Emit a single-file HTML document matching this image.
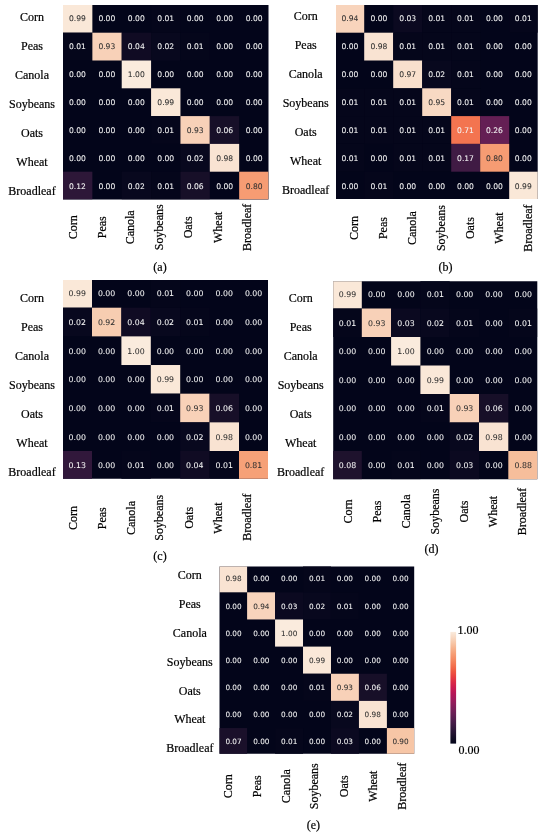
<!DOCTYPE html>
<html><head><meta charset="utf-8"><title>Confusion matrices</title>
<style>
html,body{margin:0;padding:0;background:#fff}
svg{display:block}
.lab{font-family:"Liberation Serif",serif;font-size:12px;fill:#000;stroke:#000;stroke-width:0.2px}
.ann{font-family:"DejaVu Sans","Liberation Sans",sans-serif;text-anchor:middle;stroke-width:0.06px}
.m{text-anchor:middle}
</style></head><body>
<svg width="550" height="837" viewBox="0 0 550 837">
<rect width="550" height="837" fill="#ffffff"/>
<g id="panel-a">
<clipPath id="cp-a"><rect x="63.00" y="4.90" width="205.50" height="194.70"/></clipPath>
<g clip-path="url(#cp-a)">
<rect x="62.00" y="3.90" width="207.50" height="196.70" fill="#03051a"/>
<rect x="63.00" y="4.90" width="29.36" height="27.80" fill="#fae8d8"/>
<rect x="151.08" y="4.90" width="29.36" height="27.80" fill="#05061b"/>
<rect x="63.00" y="32.70" width="29.36" height="27.80" fill="#05061b"/>
<rect x="92.36" y="32.70" width="29.36" height="27.80" fill="#f8d1b8"/>
<rect x="121.72" y="32.70" width="29.36" height="27.80" fill="#100b23"/>
<rect x="151.08" y="32.70" width="29.36" height="27.80" fill="#08081e"/>
<rect x="180.44" y="32.70" width="29.36" height="27.80" fill="#05061b"/>
<rect x="121.72" y="60.50" width="29.36" height="27.80" fill="#faebdd"/>
<rect x="151.08" y="88.30" width="29.36" height="27.80" fill="#fae8d8"/>
<rect x="151.08" y="116.10" width="29.36" height="27.80" fill="#05061b"/>
<rect x="180.44" y="116.10" width="29.36" height="27.80" fill="#f8d1b8"/>
<rect x="209.80" y="116.10" width="29.36" height="27.80" fill="#170f28"/>
<rect x="180.44" y="143.90" width="29.36" height="27.80" fill="#08081e"/>
<rect x="209.80" y="143.90" width="29.36" height="27.80" fill="#f9e3d2"/>
<rect x="63.00" y="171.70" width="29.36" height="27.80" fill="#2d1738"/>
<rect x="121.72" y="171.70" width="29.36" height="27.80" fill="#08081e"/>
<rect x="151.08" y="171.70" width="29.36" height="27.80" fill="#05061b"/>
<rect x="180.44" y="171.70" width="29.36" height="27.80" fill="#170f28"/>
<rect x="239.16" y="171.70" width="29.36" height="27.80" fill="#f69c73"/>
</g>
<g class="ann" font-size="7.6">
<text x="77.38" y="21.37" fill="#303030" stroke="#303030">0.99</text>
<text x="106.84" y="21.37" fill="#f4f4f4" stroke="#f4f4f4">0.00</text>
<text x="136.30" y="21.37" fill="#f4f4f4" stroke="#f4f4f4">0.00</text>
<text x="165.76" y="21.37" fill="#f4f4f4" stroke="#f4f4f4">0.01</text>
<text x="195.22" y="21.37" fill="#f4f4f4" stroke="#f4f4f4">0.00</text>
<text x="224.68" y="21.37" fill="#f4f4f4" stroke="#f4f4f4">0.00</text>
<text x="254.14" y="21.37" fill="#f4f4f4" stroke="#f4f4f4">0.00</text>
<text x="77.38" y="49.25" fill="#f4f4f4" stroke="#f4f4f4">0.01</text>
<text x="106.84" y="49.25" fill="#303030" stroke="#303030">0.93</text>
<text x="136.30" y="49.25" fill="#f4f4f4" stroke="#f4f4f4">0.04</text>
<text x="165.76" y="49.25" fill="#f4f4f4" stroke="#f4f4f4">0.02</text>
<text x="195.22" y="49.25" fill="#f4f4f4" stroke="#f4f4f4">0.01</text>
<text x="224.68" y="49.25" fill="#f4f4f4" stroke="#f4f4f4">0.00</text>
<text x="254.14" y="49.25" fill="#f4f4f4" stroke="#f4f4f4">0.00</text>
<text x="77.38" y="77.13" fill="#f4f4f4" stroke="#f4f4f4">0.00</text>
<text x="106.84" y="77.13" fill="#f4f4f4" stroke="#f4f4f4">0.00</text>
<text x="136.30" y="77.13" fill="#303030" stroke="#303030">1.00</text>
<text x="165.76" y="77.13" fill="#f4f4f4" stroke="#f4f4f4">0.00</text>
<text x="195.22" y="77.13" fill="#f4f4f4" stroke="#f4f4f4">0.00</text>
<text x="224.68" y="77.13" fill="#f4f4f4" stroke="#f4f4f4">0.00</text>
<text x="254.14" y="77.13" fill="#f4f4f4" stroke="#f4f4f4">0.00</text>
<text x="77.38" y="105.01" fill="#f4f4f4" stroke="#f4f4f4">0.00</text>
<text x="106.84" y="105.01" fill="#f4f4f4" stroke="#f4f4f4">0.00</text>
<text x="136.30" y="105.01" fill="#f4f4f4" stroke="#f4f4f4">0.00</text>
<text x="165.76" y="105.01" fill="#303030" stroke="#303030">0.99</text>
<text x="195.22" y="105.01" fill="#f4f4f4" stroke="#f4f4f4">0.00</text>
<text x="224.68" y="105.01" fill="#f4f4f4" stroke="#f4f4f4">0.00</text>
<text x="254.14" y="105.01" fill="#f4f4f4" stroke="#f4f4f4">0.00</text>
<text x="77.38" y="132.89" fill="#f4f4f4" stroke="#f4f4f4">0.00</text>
<text x="106.84" y="132.89" fill="#f4f4f4" stroke="#f4f4f4">0.00</text>
<text x="136.30" y="132.89" fill="#f4f4f4" stroke="#f4f4f4">0.00</text>
<text x="165.76" y="132.89" fill="#f4f4f4" stroke="#f4f4f4">0.01</text>
<text x="195.22" y="132.89" fill="#303030" stroke="#303030">0.93</text>
<text x="224.68" y="132.89" fill="#f4f4f4" stroke="#f4f4f4">0.06</text>
<text x="254.14" y="132.89" fill="#f4f4f4" stroke="#f4f4f4">0.00</text>
<text x="77.38" y="160.77" fill="#f4f4f4" stroke="#f4f4f4">0.00</text>
<text x="106.84" y="160.77" fill="#f4f4f4" stroke="#f4f4f4">0.00</text>
<text x="136.30" y="160.77" fill="#f4f4f4" stroke="#f4f4f4">0.00</text>
<text x="165.76" y="160.77" fill="#f4f4f4" stroke="#f4f4f4">0.00</text>
<text x="195.22" y="160.77" fill="#f4f4f4" stroke="#f4f4f4">0.02</text>
<text x="224.68" y="160.77" fill="#303030" stroke="#303030">0.98</text>
<text x="254.14" y="160.77" fill="#f4f4f4" stroke="#f4f4f4">0.00</text>
<text x="77.38" y="188.65" fill="#f4f4f4" stroke="#f4f4f4">0.12</text>
<text x="106.84" y="188.65" fill="#f4f4f4" stroke="#f4f4f4">0.00</text>
<text x="136.30" y="188.65" fill="#f4f4f4" stroke="#f4f4f4">0.02</text>
<text x="165.76" y="188.65" fill="#f4f4f4" stroke="#f4f4f4">0.01</text>
<text x="195.22" y="188.65" fill="#f4f4f4" stroke="#f4f4f4">0.06</text>
<text x="224.68" y="188.65" fill="#f4f4f4" stroke="#f4f4f4">0.00</text>
<text x="254.14" y="188.65" fill="#303030" stroke="#303030">0.80</text>
</g>
<text class="lab m" x="32.00" y="21.00">Corn</text>
<text class="lab m" x="32.00" y="49.97">Peas</text>
<text class="lab m" x="32.00" y="78.94">Canola</text>
<text class="lab m" x="32.00" y="107.91">Soybeans</text>
<text class="lab m" x="32.00" y="136.88">Oats</text>
<text class="lab m" x="32.00" y="165.85">Wheat</text>
<text class="lab m" x="32.00" y="194.82">Broadleaf</text>
<text class="lab m" transform="translate(77.00,227.30) rotate(-90) scale(1,1.06)">Corn</text>
<text class="lab m" transform="translate(105.60,227.30) rotate(-90) scale(1,1.06)">Peas</text>
<text class="lab m" transform="translate(134.40,227.30) rotate(-90) scale(1,1.06)">Canola</text>
<text class="lab m" transform="translate(163.00,227.30) rotate(-90) scale(1,1.06)">Soybeans</text>
<text class="lab m" transform="translate(192.40,227.30) rotate(-90) scale(1,1.06)">Oats</text>
<text class="lab m" transform="translate(221.60,227.30) rotate(-90) scale(1,1.06)">Wheat</text>
<text class="lab m" transform="translate(250.60,227.30) rotate(-90) scale(1,1.06)">Broadleaf</text>
<text class="lab m" x="160" y="271">(a)</text>
</g>
<g id="panel-b">
<clipPath id="cp-b"><rect x="336.00" y="4.90" width="201.70" height="194.10"/></clipPath>
<g clip-path="url(#cp-b)">
<rect x="335.00" y="3.90" width="203.70" height="196.10" fill="#03051a"/>
<rect x="335.20" y="4.90" width="29.00" height="27.80" fill="#f8d4bc"/>
<rect x="393.20" y="4.90" width="29.00" height="27.80" fill="#0b0920"/>
<rect x="422.20" y="4.90" width="29.00" height="27.80" fill="#05061b"/>
<rect x="451.20" y="4.90" width="29.00" height="27.80" fill="#05061b"/>
<rect x="509.20" y="4.90" width="29.00" height="27.80" fill="#05061b"/>
<rect x="364.20" y="32.70" width="29.00" height="27.80" fill="#f9e3d2"/>
<rect x="393.20" y="32.70" width="29.00" height="27.80" fill="#05061b"/>
<rect x="422.20" y="32.70" width="29.00" height="27.80" fill="#05061b"/>
<rect x="451.20" y="32.70" width="29.00" height="27.80" fill="#05061b"/>
<rect x="393.20" y="60.50" width="29.00" height="27.80" fill="#f9e0cd"/>
<rect x="422.20" y="60.50" width="29.00" height="27.80" fill="#08081e"/>
<rect x="451.20" y="60.50" width="29.00" height="27.80" fill="#05061b"/>
<rect x="335.20" y="88.30" width="29.00" height="27.80" fill="#05061b"/>
<rect x="364.20" y="88.30" width="29.00" height="27.80" fill="#05061b"/>
<rect x="393.20" y="88.30" width="29.00" height="27.80" fill="#05061b"/>
<rect x="422.20" y="88.30" width="29.00" height="27.80" fill="#f8d9c3"/>
<rect x="451.20" y="88.30" width="29.00" height="27.80" fill="#05061b"/>
<rect x="335.20" y="116.10" width="29.00" height="27.80" fill="#05061b"/>
<rect x="364.20" y="116.10" width="29.00" height="27.80" fill="#05061b"/>
<rect x="393.20" y="116.10" width="29.00" height="27.80" fill="#05061b"/>
<rect x="422.20" y="116.10" width="29.00" height="27.80" fill="#05061b"/>
<rect x="451.20" y="116.10" width="29.00" height="27.80" fill="#f37450"/>
<rect x="480.20" y="116.10" width="29.00" height="27.80" fill="#641f54"/>
<rect x="335.20" y="143.90" width="29.00" height="27.80" fill="#05061b"/>
<rect x="393.20" y="143.90" width="29.00" height="27.80" fill="#05061b"/>
<rect x="422.20" y="143.90" width="29.00" height="27.80" fill="#05061b"/>
<rect x="451.20" y="143.90" width="29.00" height="27.80" fill="#401b44"/>
<rect x="480.20" y="143.90" width="29.00" height="27.80" fill="#f69c73"/>
<rect x="364.20" y="171.70" width="29.00" height="27.80" fill="#05061b"/>
<rect x="509.20" y="171.70" width="29.00" height="27.80" fill="#fae8d8"/>
</g>
<g class="ann" font-size="7.6">
<text x="350.00" y="21.47" fill="#303030" stroke="#303030">0.94</text>
<text x="378.88" y="21.47" fill="#f4f4f4" stroke="#f4f4f4">0.00</text>
<text x="407.76" y="21.47" fill="#f4f4f4" stroke="#f4f4f4">0.03</text>
<text x="436.64" y="21.47" fill="#f4f4f4" stroke="#f4f4f4">0.01</text>
<text x="465.52" y="21.47" fill="#f4f4f4" stroke="#f4f4f4">0.01</text>
<text x="494.40" y="21.47" fill="#f4f4f4" stroke="#f4f4f4">0.00</text>
<text x="523.28" y="21.47" fill="#f4f4f4" stroke="#f4f4f4">0.01</text>
<text x="350.00" y="49.33" fill="#f4f4f4" stroke="#f4f4f4">0.00</text>
<text x="378.88" y="49.33" fill="#303030" stroke="#303030">0.98</text>
<text x="407.76" y="49.33" fill="#f4f4f4" stroke="#f4f4f4">0.01</text>
<text x="436.64" y="49.33" fill="#f4f4f4" stroke="#f4f4f4">0.01</text>
<text x="465.52" y="49.33" fill="#f4f4f4" stroke="#f4f4f4">0.01</text>
<text x="494.40" y="49.33" fill="#f4f4f4" stroke="#f4f4f4">0.00</text>
<text x="523.28" y="49.33" fill="#f4f4f4" stroke="#f4f4f4">0.00</text>
<text x="350.00" y="77.19" fill="#f4f4f4" stroke="#f4f4f4">0.00</text>
<text x="378.88" y="77.19" fill="#f4f4f4" stroke="#f4f4f4">0.00</text>
<text x="407.76" y="77.19" fill="#303030" stroke="#303030">0.97</text>
<text x="436.64" y="77.19" fill="#f4f4f4" stroke="#f4f4f4">0.02</text>
<text x="465.52" y="77.19" fill="#f4f4f4" stroke="#f4f4f4">0.01</text>
<text x="494.40" y="77.19" fill="#f4f4f4" stroke="#f4f4f4">0.00</text>
<text x="523.28" y="77.19" fill="#f4f4f4" stroke="#f4f4f4">0.00</text>
<text x="350.00" y="105.05" fill="#f4f4f4" stroke="#f4f4f4">0.01</text>
<text x="378.88" y="105.05" fill="#f4f4f4" stroke="#f4f4f4">0.01</text>
<text x="407.76" y="105.05" fill="#f4f4f4" stroke="#f4f4f4">0.01</text>
<text x="436.64" y="105.05" fill="#303030" stroke="#303030">0.95</text>
<text x="465.52" y="105.05" fill="#f4f4f4" stroke="#f4f4f4">0.01</text>
<text x="494.40" y="105.05" fill="#f4f4f4" stroke="#f4f4f4">0.00</text>
<text x="523.28" y="105.05" fill="#f4f4f4" stroke="#f4f4f4">0.00</text>
<text x="350.00" y="132.91" fill="#f4f4f4" stroke="#f4f4f4">0.01</text>
<text x="378.88" y="132.91" fill="#f4f4f4" stroke="#f4f4f4">0.01</text>
<text x="407.76" y="132.91" fill="#f4f4f4" stroke="#f4f4f4">0.01</text>
<text x="436.64" y="132.91" fill="#f4f4f4" stroke="#f4f4f4">0.01</text>
<text x="465.52" y="132.91" fill="#f4f4f4" stroke="#f4f4f4">0.71</text>
<text x="494.40" y="132.91" fill="#f4f4f4" stroke="#f4f4f4">0.26</text>
<text x="523.28" y="132.91" fill="#f4f4f4" stroke="#f4f4f4">0.00</text>
<text x="350.00" y="160.77" fill="#f4f4f4" stroke="#f4f4f4">0.01</text>
<text x="378.88" y="160.77" fill="#f4f4f4" stroke="#f4f4f4">0.00</text>
<text x="407.76" y="160.77" fill="#f4f4f4" stroke="#f4f4f4">0.01</text>
<text x="436.64" y="160.77" fill="#f4f4f4" stroke="#f4f4f4">0.01</text>
<text x="465.52" y="160.77" fill="#f4f4f4" stroke="#f4f4f4">0.17</text>
<text x="494.40" y="160.77" fill="#303030" stroke="#303030">0.80</text>
<text x="523.28" y="160.77" fill="#f4f4f4" stroke="#f4f4f4">0.00</text>
<text x="350.00" y="188.63" fill="#f4f4f4" stroke="#f4f4f4">0.00</text>
<text x="378.88" y="188.63" fill="#f4f4f4" stroke="#f4f4f4">0.01</text>
<text x="407.76" y="188.63" fill="#f4f4f4" stroke="#f4f4f4">0.00</text>
<text x="436.64" y="188.63" fill="#f4f4f4" stroke="#f4f4f4">0.00</text>
<text x="465.52" y="188.63" fill="#f4f4f4" stroke="#f4f4f4">0.00</text>
<text x="494.40" y="188.63" fill="#f4f4f4" stroke="#f4f4f4">0.00</text>
<text x="523.28" y="188.63" fill="#303030" stroke="#303030">0.99</text>
</g>
<text class="lab m" x="305.70" y="20.40">Corn</text>
<text class="lab m" x="305.70" y="49.25">Peas</text>
<text class="lab m" x="305.70" y="78.10">Canola</text>
<text class="lab m" x="305.70" y="106.95">Soybeans</text>
<text class="lab m" x="305.70" y="135.80">Oats</text>
<text class="lab m" x="305.70" y="164.65">Wheat</text>
<text class="lab m" x="305.70" y="193.50">Broadleaf</text>
<text class="lab m" transform="translate(358.40,228.10) rotate(-90) scale(1,1.06)">Corn</text>
<text class="lab m" transform="translate(387.40,228.10) rotate(-90) scale(1,1.06)">Peas</text>
<text class="lab m" transform="translate(416.40,228.10) rotate(-90) scale(1,1.06)">Canola</text>
<text class="lab m" transform="translate(445.20,228.10) rotate(-90) scale(1,1.06)">Soybeans</text>
<text class="lab m" transform="translate(474.40,228.10) rotate(-90) scale(1,1.06)">Oats</text>
<text class="lab m" transform="translate(503.40,228.10) rotate(-90) scale(1,1.06)">Wheat</text>
<text class="lab m" transform="translate(532.40,228.10) rotate(-90) scale(1,1.06)">Broadleaf</text>
<text class="lab m" x="445.6" y="271">(b)</text>
</g>
<g id="panel-c">
<clipPath id="cp-c"><rect x="63.00" y="280.00" width="205.00" height="198.70"/></clipPath>
<g clip-path="url(#cp-c)">
<rect x="62.00" y="279.00" width="207.00" height="200.70" fill="#03051a"/>
<rect x="62.60" y="279.04" width="29.40" height="28.66" fill="#fae8d8"/>
<rect x="150.80" y="279.04" width="29.40" height="28.66" fill="#05061b"/>
<rect x="62.60" y="307.70" width="29.40" height="28.66" fill="#08081e"/>
<rect x="92.00" y="307.70" width="29.40" height="28.66" fill="#f7cdb1"/>
<rect x="121.40" y="307.70" width="29.40" height="28.66" fill="#100b23"/>
<rect x="150.80" y="307.70" width="29.40" height="28.66" fill="#08081e"/>
<rect x="180.20" y="307.70" width="29.40" height="28.66" fill="#05061b"/>
<rect x="121.40" y="336.36" width="29.40" height="28.66" fill="#faebdd"/>
<rect x="150.80" y="365.02" width="29.40" height="28.66" fill="#fae8d8"/>
<rect x="150.80" y="393.68" width="29.40" height="28.66" fill="#05061b"/>
<rect x="180.20" y="393.68" width="29.40" height="28.66" fill="#f8d1b8"/>
<rect x="209.60" y="393.68" width="29.40" height="28.66" fill="#170f28"/>
<rect x="180.20" y="422.34" width="29.40" height="28.66" fill="#08081e"/>
<rect x="209.60" y="422.34" width="29.40" height="28.66" fill="#f9e3d2"/>
<rect x="62.60" y="451.00" width="29.40" height="28.66" fill="#31183b"/>
<rect x="121.40" y="451.00" width="29.40" height="28.66" fill="#05061b"/>
<rect x="180.20" y="451.00" width="29.40" height="28.66" fill="#100b23"/>
<rect x="209.60" y="451.00" width="29.40" height="28.66" fill="#05061b"/>
<rect x="239.00" y="451.00" width="29.40" height="28.66" fill="#f6a178"/>
</g>
<g class="ann" font-size="7.8">
<text x="77.20" y="296.42" fill="#303030" stroke="#303030">0.99</text>
<text x="106.60" y="296.42" fill="#f4f4f4" stroke="#f4f4f4">0.00</text>
<text x="136.00" y="296.42" fill="#f4f4f4" stroke="#f4f4f4">0.00</text>
<text x="165.40" y="296.42" fill="#f4f4f4" stroke="#f4f4f4">0.01</text>
<text x="194.80" y="296.42" fill="#f4f4f4" stroke="#f4f4f4">0.00</text>
<text x="224.20" y="296.42" fill="#f4f4f4" stroke="#f4f4f4">0.00</text>
<text x="253.60" y="296.42" fill="#f4f4f4" stroke="#f4f4f4">0.00</text>
<text x="77.20" y="325.08" fill="#f4f4f4" stroke="#f4f4f4">0.02</text>
<text x="106.60" y="325.08" fill="#303030" stroke="#303030">0.92</text>
<text x="136.00" y="325.08" fill="#f4f4f4" stroke="#f4f4f4">0.04</text>
<text x="165.40" y="325.08" fill="#f4f4f4" stroke="#f4f4f4">0.02</text>
<text x="194.80" y="325.08" fill="#f4f4f4" stroke="#f4f4f4">0.01</text>
<text x="224.20" y="325.08" fill="#f4f4f4" stroke="#f4f4f4">0.00</text>
<text x="253.60" y="325.08" fill="#f4f4f4" stroke="#f4f4f4">0.00</text>
<text x="77.20" y="353.74" fill="#f4f4f4" stroke="#f4f4f4">0.00</text>
<text x="106.60" y="353.74" fill="#f4f4f4" stroke="#f4f4f4">0.00</text>
<text x="136.00" y="353.74" fill="#303030" stroke="#303030">1.00</text>
<text x="165.40" y="353.74" fill="#f4f4f4" stroke="#f4f4f4">0.00</text>
<text x="194.80" y="353.74" fill="#f4f4f4" stroke="#f4f4f4">0.00</text>
<text x="224.20" y="353.74" fill="#f4f4f4" stroke="#f4f4f4">0.00</text>
<text x="253.60" y="353.74" fill="#f4f4f4" stroke="#f4f4f4">0.00</text>
<text x="77.20" y="382.40" fill="#f4f4f4" stroke="#f4f4f4">0.00</text>
<text x="106.60" y="382.40" fill="#f4f4f4" stroke="#f4f4f4">0.00</text>
<text x="136.00" y="382.40" fill="#f4f4f4" stroke="#f4f4f4">0.00</text>
<text x="165.40" y="382.40" fill="#303030" stroke="#303030">0.99</text>
<text x="194.80" y="382.40" fill="#f4f4f4" stroke="#f4f4f4">0.00</text>
<text x="224.20" y="382.40" fill="#f4f4f4" stroke="#f4f4f4">0.00</text>
<text x="253.60" y="382.40" fill="#f4f4f4" stroke="#f4f4f4">0.00</text>
<text x="77.20" y="411.06" fill="#f4f4f4" stroke="#f4f4f4">0.00</text>
<text x="106.60" y="411.06" fill="#f4f4f4" stroke="#f4f4f4">0.00</text>
<text x="136.00" y="411.06" fill="#f4f4f4" stroke="#f4f4f4">0.00</text>
<text x="165.40" y="411.06" fill="#f4f4f4" stroke="#f4f4f4">0.01</text>
<text x="194.80" y="411.06" fill="#303030" stroke="#303030">0.93</text>
<text x="224.20" y="411.06" fill="#f4f4f4" stroke="#f4f4f4">0.06</text>
<text x="253.60" y="411.06" fill="#f4f4f4" stroke="#f4f4f4">0.00</text>
<text x="77.20" y="439.72" fill="#f4f4f4" stroke="#f4f4f4">0.00</text>
<text x="106.60" y="439.72" fill="#f4f4f4" stroke="#f4f4f4">0.00</text>
<text x="136.00" y="439.72" fill="#f4f4f4" stroke="#f4f4f4">0.00</text>
<text x="165.40" y="439.72" fill="#f4f4f4" stroke="#f4f4f4">0.00</text>
<text x="194.80" y="439.72" fill="#f4f4f4" stroke="#f4f4f4">0.02</text>
<text x="224.20" y="439.72" fill="#303030" stroke="#303030">0.98</text>
<text x="253.60" y="439.72" fill="#f4f4f4" stroke="#f4f4f4">0.00</text>
<text x="77.20" y="468.38" fill="#f4f4f4" stroke="#f4f4f4">0.13</text>
<text x="106.60" y="468.38" fill="#f4f4f4" stroke="#f4f4f4">0.00</text>
<text x="136.00" y="468.38" fill="#f4f4f4" stroke="#f4f4f4">0.01</text>
<text x="165.40" y="468.38" fill="#f4f4f4" stroke="#f4f4f4">0.00</text>
<text x="194.80" y="468.38" fill="#f4f4f4" stroke="#f4f4f4">0.04</text>
<text x="224.20" y="468.38" fill="#f4f4f4" stroke="#f4f4f4">0.01</text>
<text x="253.60" y="468.38" fill="#303030" stroke="#303030">0.81</text>
</g>
<text class="lab m" x="32.00" y="302.10">Corn</text>
<text class="lab m" x="32.00" y="331.00">Peas</text>
<text class="lab m" x="32.00" y="359.90">Canola</text>
<text class="lab m" x="32.00" y="388.80">Soybeans</text>
<text class="lab m" x="32.00" y="417.70">Oats</text>
<text class="lab m" x="32.00" y="446.60">Wheat</text>
<text class="lab m" x="32.00" y="475.50">Broadleaf</text>
<text class="lab m" transform="translate(77.00,518.00) rotate(-90) scale(1,1.06)">Corn</text>
<text class="lab m" transform="translate(106.00,518.30) rotate(-90) scale(1,1.06)">Peas</text>
<text class="lab m" transform="translate(134.60,518.00) rotate(-90) scale(1,1.06)">Canola</text>
<text class="lab m" transform="translate(163.40,517.80) rotate(-90) scale(1,1.06)">Soybeans</text>
<text class="lab m" transform="translate(193.00,517.80) rotate(-90) scale(1,1.06)">Oats</text>
<text class="lab m" transform="translate(222.00,518.00) rotate(-90) scale(1,1.06)">Wheat</text>
<text class="lab m" transform="translate(251.00,517.20) rotate(-90) scale(1,1.06)">Broadleaf</text>
<text class="lab m" x="160" y="560.2">(c)</text>
</g>
<g id="panel-d">
<clipPath id="cp-d"><rect x="333.20" y="281.20" width="204.10" height="198.00"/></clipPath>
<g clip-path="url(#cp-d)">
<rect x="332.20" y="280.20" width="206.10" height="200.00" fill="#03051a"/>
<rect x="332.50" y="280.00" width="29.30" height="28.50" fill="#fae8d8"/>
<rect x="420.40" y="280.00" width="29.30" height="28.50" fill="#05061b"/>
<rect x="332.50" y="308.50" width="29.30" height="28.50" fill="#05061b"/>
<rect x="361.80" y="308.50" width="29.30" height="28.50" fill="#f8d1b8"/>
<rect x="391.10" y="308.50" width="29.30" height="28.50" fill="#0b0920"/>
<rect x="420.40" y="308.50" width="29.30" height="28.50" fill="#08081e"/>
<rect x="449.70" y="308.50" width="29.30" height="28.50" fill="#05061b"/>
<rect x="508.30" y="308.50" width="29.30" height="28.50" fill="#05061b"/>
<rect x="391.10" y="337.00" width="29.30" height="28.50" fill="#faebdd"/>
<rect x="420.40" y="365.50" width="29.30" height="28.50" fill="#fae8d8"/>
<rect x="420.40" y="394.00" width="29.30" height="28.50" fill="#05061b"/>
<rect x="449.70" y="394.00" width="29.30" height="28.50" fill="#f8d1b8"/>
<rect x="479.00" y="394.00" width="29.30" height="28.50" fill="#170f28"/>
<rect x="449.70" y="422.50" width="29.30" height="28.50" fill="#08081e"/>
<rect x="479.00" y="422.50" width="29.30" height="28.50" fill="#f9e3d2"/>
<rect x="332.50" y="451.00" width="29.30" height="28.50" fill="#1e122d"/>
<rect x="391.10" y="451.00" width="29.30" height="28.50" fill="#05061b"/>
<rect x="449.70" y="451.00" width="29.30" height="28.50" fill="#0b0920"/>
<rect x="508.30" y="451.00" width="29.30" height="28.50" fill="#f6be9b"/>
</g>
<g class="ann" font-size="7.8">
<text x="347.45" y="297.30" fill="#303030" stroke="#303030">0.99</text>
<text x="376.75" y="297.30" fill="#f4f4f4" stroke="#f4f4f4">0.00</text>
<text x="406.05" y="297.30" fill="#f4f4f4" stroke="#f4f4f4">0.00</text>
<text x="435.35" y="297.30" fill="#f4f4f4" stroke="#f4f4f4">0.01</text>
<text x="464.65" y="297.30" fill="#f4f4f4" stroke="#f4f4f4">0.00</text>
<text x="493.95" y="297.30" fill="#f4f4f4" stroke="#f4f4f4">0.00</text>
<text x="523.25" y="297.30" fill="#f4f4f4" stroke="#f4f4f4">0.00</text>
<text x="347.45" y="325.80" fill="#f4f4f4" stroke="#f4f4f4">0.01</text>
<text x="376.75" y="325.80" fill="#303030" stroke="#303030">0.93</text>
<text x="406.05" y="325.80" fill="#f4f4f4" stroke="#f4f4f4">0.03</text>
<text x="435.35" y="325.80" fill="#f4f4f4" stroke="#f4f4f4">0.02</text>
<text x="464.65" y="325.80" fill="#f4f4f4" stroke="#f4f4f4">0.01</text>
<text x="493.95" y="325.80" fill="#f4f4f4" stroke="#f4f4f4">0.00</text>
<text x="523.25" y="325.80" fill="#f4f4f4" stroke="#f4f4f4">0.01</text>
<text x="347.45" y="354.30" fill="#f4f4f4" stroke="#f4f4f4">0.00</text>
<text x="376.75" y="354.30" fill="#f4f4f4" stroke="#f4f4f4">0.00</text>
<text x="406.05" y="354.30" fill="#303030" stroke="#303030">1.00</text>
<text x="435.35" y="354.30" fill="#f4f4f4" stroke="#f4f4f4">0.00</text>
<text x="464.65" y="354.30" fill="#f4f4f4" stroke="#f4f4f4">0.00</text>
<text x="493.95" y="354.30" fill="#f4f4f4" stroke="#f4f4f4">0.00</text>
<text x="523.25" y="354.30" fill="#f4f4f4" stroke="#f4f4f4">0.00</text>
<text x="347.45" y="382.80" fill="#f4f4f4" stroke="#f4f4f4">0.00</text>
<text x="376.75" y="382.80" fill="#f4f4f4" stroke="#f4f4f4">0.00</text>
<text x="406.05" y="382.80" fill="#f4f4f4" stroke="#f4f4f4">0.00</text>
<text x="435.35" y="382.80" fill="#303030" stroke="#303030">0.99</text>
<text x="464.65" y="382.80" fill="#f4f4f4" stroke="#f4f4f4">0.00</text>
<text x="493.95" y="382.80" fill="#f4f4f4" stroke="#f4f4f4">0.00</text>
<text x="523.25" y="382.80" fill="#f4f4f4" stroke="#f4f4f4">0.00</text>
<text x="347.45" y="411.30" fill="#f4f4f4" stroke="#f4f4f4">0.00</text>
<text x="376.75" y="411.30" fill="#f4f4f4" stroke="#f4f4f4">0.00</text>
<text x="406.05" y="411.30" fill="#f4f4f4" stroke="#f4f4f4">0.00</text>
<text x="435.35" y="411.30" fill="#f4f4f4" stroke="#f4f4f4">0.01</text>
<text x="464.65" y="411.30" fill="#303030" stroke="#303030">0.93</text>
<text x="493.95" y="411.30" fill="#f4f4f4" stroke="#f4f4f4">0.06</text>
<text x="523.25" y="411.30" fill="#f4f4f4" stroke="#f4f4f4">0.00</text>
<text x="347.45" y="439.80" fill="#f4f4f4" stroke="#f4f4f4">0.00</text>
<text x="376.75" y="439.80" fill="#f4f4f4" stroke="#f4f4f4">0.00</text>
<text x="406.05" y="439.80" fill="#f4f4f4" stroke="#f4f4f4">0.00</text>
<text x="435.35" y="439.80" fill="#f4f4f4" stroke="#f4f4f4">0.00</text>
<text x="464.65" y="439.80" fill="#f4f4f4" stroke="#f4f4f4">0.02</text>
<text x="493.95" y="439.80" fill="#303030" stroke="#303030">0.98</text>
<text x="523.25" y="439.80" fill="#f4f4f4" stroke="#f4f4f4">0.00</text>
<text x="347.45" y="468.30" fill="#f4f4f4" stroke="#f4f4f4">0.08</text>
<text x="376.75" y="468.30" fill="#f4f4f4" stroke="#f4f4f4">0.00</text>
<text x="406.05" y="468.30" fill="#f4f4f4" stroke="#f4f4f4">0.01</text>
<text x="435.35" y="468.30" fill="#f4f4f4" stroke="#f4f4f4">0.00</text>
<text x="464.65" y="468.30" fill="#f4f4f4" stroke="#f4f4f4">0.03</text>
<text x="493.95" y="468.30" fill="#f4f4f4" stroke="#f4f4f4">0.00</text>
<text x="523.25" y="468.30" fill="#303030" stroke="#303030">0.88</text>
</g>
<text class="lab m" x="300.70" y="302.00">Corn</text>
<text class="lab m" x="300.70" y="330.92">Peas</text>
<text class="lab m" x="300.70" y="359.84">Canola</text>
<text class="lab m" x="300.70" y="388.76">Soybeans</text>
<text class="lab m" x="300.70" y="417.68">Oats</text>
<text class="lab m" x="300.70" y="446.60">Wheat</text>
<text class="lab m" x="300.70" y="475.52">Broadleaf</text>
<text class="lab m" transform="translate(352.00,511.50) rotate(-90) scale(1,1.06)">Corn</text>
<text class="lab m" transform="translate(380.60,511.50) rotate(-90) scale(1,1.06)">Peas</text>
<text class="lab m" transform="translate(410.00,511.50) rotate(-90) scale(1,1.06)">Canola</text>
<text class="lab m" transform="translate(438.60,511.50) rotate(-90) scale(1,1.06)">Soybeans</text>
<text class="lab m" transform="translate(468.00,511.50) rotate(-90) scale(1,1.06)">Oats</text>
<text class="lab m" transform="translate(497.00,511.50) rotate(-90) scale(1,1.06)">Wheat</text>
<text class="lab m" transform="translate(526.00,511.50) rotate(-90) scale(1,1.06)">Broadleaf</text>
<text class="lab m" x="431.4" y="552.7">(d)</text>
</g>
<g id="panel-e">
<clipPath id="cp-e"><rect x="219.50" y="566.50" width="194.70" height="187.30"/></clipPath>
<g clip-path="url(#cp-e)">
<rect x="218.50" y="565.50" width="196.70" height="189.30" fill="#03051a"/>
<rect x="219.14" y="565.15" width="27.96" height="27.15" fill="#f9e3d2"/>
<rect x="303.02" y="565.15" width="27.96" height="27.15" fill="#05061b"/>
<rect x="247.10" y="592.30" width="27.96" height="27.15" fill="#f8d4bc"/>
<rect x="275.06" y="592.30" width="27.96" height="27.15" fill="#0b0920"/>
<rect x="303.02" y="592.30" width="27.96" height="27.15" fill="#08081e"/>
<rect x="330.98" y="592.30" width="27.96" height="27.15" fill="#05061b"/>
<rect x="275.06" y="619.45" width="27.96" height="27.15" fill="#faebdd"/>
<rect x="303.02" y="646.60" width="27.96" height="27.15" fill="#fae8d8"/>
<rect x="303.02" y="673.75" width="27.96" height="27.15" fill="#05061b"/>
<rect x="330.98" y="673.75" width="27.96" height="27.15" fill="#f8d1b8"/>
<rect x="358.94" y="673.75" width="27.96" height="27.15" fill="#170f28"/>
<rect x="330.98" y="700.90" width="27.96" height="27.15" fill="#08081e"/>
<rect x="358.94" y="700.90" width="27.96" height="27.15" fill="#f9e3d2"/>
<rect x="219.14" y="728.05" width="27.96" height="27.15" fill="#1a102a"/>
<rect x="275.06" y="728.05" width="27.96" height="27.15" fill="#05061b"/>
<rect x="330.98" y="728.05" width="27.96" height="27.15" fill="#0b0920"/>
<rect x="386.90" y="728.05" width="27.96" height="27.15" fill="#f7c6a6"/>
</g>
<g class="ann" font-size="7.3">
<text x="233.52" y="581.49" fill="#303030" stroke="#303030">0.98</text>
<text x="261.35" y="581.49" fill="#f4f4f4" stroke="#f4f4f4">0.00</text>
<text x="289.18" y="581.49" fill="#f4f4f4" stroke="#f4f4f4">0.00</text>
<text x="317.01" y="581.49" fill="#f4f4f4" stroke="#f4f4f4">0.01</text>
<text x="344.84" y="581.49" fill="#f4f4f4" stroke="#f4f4f4">0.00</text>
<text x="372.67" y="581.49" fill="#f4f4f4" stroke="#f4f4f4">0.00</text>
<text x="400.50" y="581.49" fill="#f4f4f4" stroke="#f4f4f4">0.00</text>
<text x="233.52" y="608.64" fill="#f4f4f4" stroke="#f4f4f4">0.00</text>
<text x="261.35" y="608.64" fill="#303030" stroke="#303030">0.94</text>
<text x="289.18" y="608.64" fill="#f4f4f4" stroke="#f4f4f4">0.03</text>
<text x="317.01" y="608.64" fill="#f4f4f4" stroke="#f4f4f4">0.02</text>
<text x="344.84" y="608.64" fill="#f4f4f4" stroke="#f4f4f4">0.01</text>
<text x="372.67" y="608.64" fill="#f4f4f4" stroke="#f4f4f4">0.00</text>
<text x="400.50" y="608.64" fill="#f4f4f4" stroke="#f4f4f4">0.00</text>
<text x="233.52" y="635.79" fill="#f4f4f4" stroke="#f4f4f4">0.00</text>
<text x="261.35" y="635.79" fill="#f4f4f4" stroke="#f4f4f4">0.00</text>
<text x="289.18" y="635.79" fill="#303030" stroke="#303030">1.00</text>
<text x="317.01" y="635.79" fill="#f4f4f4" stroke="#f4f4f4">0.00</text>
<text x="344.84" y="635.79" fill="#f4f4f4" stroke="#f4f4f4">0.00</text>
<text x="372.67" y="635.79" fill="#f4f4f4" stroke="#f4f4f4">0.00</text>
<text x="400.50" y="635.79" fill="#f4f4f4" stroke="#f4f4f4">0.00</text>
<text x="233.52" y="662.94" fill="#f4f4f4" stroke="#f4f4f4">0.00</text>
<text x="261.35" y="662.94" fill="#f4f4f4" stroke="#f4f4f4">0.00</text>
<text x="289.18" y="662.94" fill="#f4f4f4" stroke="#f4f4f4">0.00</text>
<text x="317.01" y="662.94" fill="#303030" stroke="#303030">0.99</text>
<text x="344.84" y="662.94" fill="#f4f4f4" stroke="#f4f4f4">0.00</text>
<text x="372.67" y="662.94" fill="#f4f4f4" stroke="#f4f4f4">0.00</text>
<text x="400.50" y="662.94" fill="#f4f4f4" stroke="#f4f4f4">0.00</text>
<text x="233.52" y="690.09" fill="#f4f4f4" stroke="#f4f4f4">0.00</text>
<text x="261.35" y="690.09" fill="#f4f4f4" stroke="#f4f4f4">0.00</text>
<text x="289.18" y="690.09" fill="#f4f4f4" stroke="#f4f4f4">0.00</text>
<text x="317.01" y="690.09" fill="#f4f4f4" stroke="#f4f4f4">0.01</text>
<text x="344.84" y="690.09" fill="#303030" stroke="#303030">0.93</text>
<text x="372.67" y="690.09" fill="#f4f4f4" stroke="#f4f4f4">0.06</text>
<text x="400.50" y="690.09" fill="#f4f4f4" stroke="#f4f4f4">0.00</text>
<text x="233.52" y="717.24" fill="#f4f4f4" stroke="#f4f4f4">0.00</text>
<text x="261.35" y="717.24" fill="#f4f4f4" stroke="#f4f4f4">0.00</text>
<text x="289.18" y="717.24" fill="#f4f4f4" stroke="#f4f4f4">0.00</text>
<text x="317.01" y="717.24" fill="#f4f4f4" stroke="#f4f4f4">0.00</text>
<text x="344.84" y="717.24" fill="#f4f4f4" stroke="#f4f4f4">0.02</text>
<text x="372.67" y="717.24" fill="#303030" stroke="#303030">0.98</text>
<text x="400.50" y="717.24" fill="#f4f4f4" stroke="#f4f4f4">0.00</text>
<text x="233.52" y="744.39" fill="#f4f4f4" stroke="#f4f4f4">0.07</text>
<text x="261.35" y="744.39" fill="#f4f4f4" stroke="#f4f4f4">0.00</text>
<text x="289.18" y="744.39" fill="#f4f4f4" stroke="#f4f4f4">0.01</text>
<text x="317.01" y="744.39" fill="#f4f4f4" stroke="#f4f4f4">0.00</text>
<text x="344.84" y="744.39" fill="#f4f4f4" stroke="#f4f4f4">0.03</text>
<text x="372.67" y="744.39" fill="#f4f4f4" stroke="#f4f4f4">0.00</text>
<text x="400.50" y="744.39" fill="#303030" stroke="#303030">0.90</text>
</g>
<text class="lab m" x="189.80" y="578.80">Corn</text>
<text class="lab m" x="189.80" y="607.73">Peas</text>
<text class="lab m" x="189.80" y="636.66">Canola</text>
<text class="lab m" x="189.80" y="665.59">Soybeans</text>
<text class="lab m" x="189.80" y="694.52">Oats</text>
<text class="lab m" x="189.80" y="723.45">Wheat</text>
<text class="lab m" x="189.80" y="752.38">Broadleaf</text>
<text class="lab m" transform="translate(232.00,786.20) rotate(-90) scale(1,1.06)">Corn</text>
<text class="lab m" transform="translate(260.60,786.20) rotate(-90) scale(1,1.06)">Peas</text>
<text class="lab m" transform="translate(289.60,786.20) rotate(-90) scale(1,1.06)">Canola</text>
<text class="lab m" transform="translate(318.40,786.20) rotate(-90) scale(1,1.06)">Soybeans</text>
<text class="lab m" transform="translate(348.00,786.20) rotate(-90) scale(1,1.06)">Oats</text>
<text class="lab m" transform="translate(377.00,786.20) rotate(-90) scale(1,1.06)">Wheat</text>
<text class="lab m" transform="translate(406.00,786.20) rotate(-90) scale(1,1.06)">Broadleaf</text>
<text class="lab m" x="313.4" y="829.4">(e)</text>
</g>
<defs><linearGradient id="rk" x1="0" y1="0" x2="0" y2="1"><stop offset="0.00" stop-color="#faebdd"/><stop offset="0.05" stop-color="#f8d9c3"/><stop offset="0.10" stop-color="#f7c6a6"/><stop offset="0.15" stop-color="#f6b18b"/><stop offset="0.20" stop-color="#f69c73"/><stop offset="0.25" stop-color="#f58860"/><stop offset="0.30" stop-color="#f3714d"/><stop offset="0.35" stop-color="#ef5840"/><stop offset="0.40" stop-color="#e83f3f"/><stop offset="0.45" stop-color="#db2946"/><stop offset="0.50" stop-color="#cb1b4f"/><stop offset="0.55" stop-color="#b71657"/><stop offset="0.60" stop-color="#a11a5b"/><stop offset="0.65" stop-color="#8b1d5b"/><stop offset="0.70" stop-color="#751f58"/><stop offset="0.75" stop-color="#611f53"/><stop offset="0.80" stop-color="#4c1d4b"/><stop offset="0.85" stop-color="#381a40"/><stop offset="0.90" stop-color="#251433"/><stop offset="0.95" stop-color="#130d25"/><stop offset="1.00" stop-color="#03051a"/></linearGradient></defs>
<rect x="450.4" y="631.9" width="5.7" height="111.7" fill="url(#rk)"/>
<text class="lab" x="457.6" y="633.8">1.00</text>
<text class="lab" x="458.4" y="754.3">0.00</text>
</svg>
</body></html>
